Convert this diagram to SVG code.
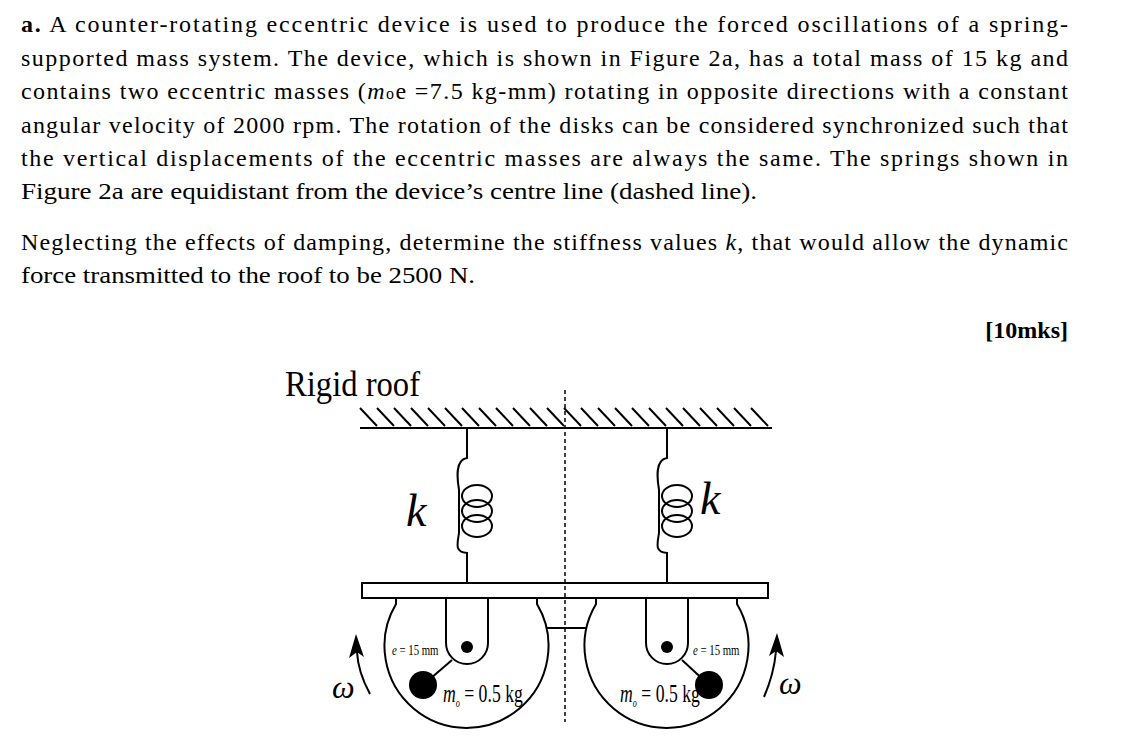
<svg xmlns="http://www.w3.org/2000/svg" width="1132" height="752" viewBox="0 0 1132 752">
<style>
.t{font-family:"Liberation Serif",serif;font-size:24px;fill:#000}
.ln{stroke:#000;stroke-width:2;fill:none}
.fig{font-family:"Liberation Serif",serif;fill:#000}
</style>
<defs>
<g id="coil">
<path class="ln" d="M0,0 V30 C-12,32 -10,50 -8,62 V105 C-10,117 -12,124 0,125 V155"/>
<ellipse class="ln" cx="10" cy="68" rx="15" ry="11"/>
<ellipse class="ln" cx="10" cy="83" rx="15" ry="11"/>
<ellipse class="ln" cx="10" cy="98" rx="15" ry="11"/>
</g>
</defs>
<rect width="1132" height="752" fill="#fff"/>
<g id="text">
<text class="t" x="21" y="32" textLength="1047" lengthAdjust="spacing"><tspan font-weight="bold">a.</tspan> A counter-rotating eccentric device is used to produce the forced oscillations of a spring-</text>
<text class="t" x="21" y="66" textLength="1047" lengthAdjust="spacing">supported mass system. The device, which is shown in Figure 2a, has a total mass of 15 kg and</text>
<text class="t" x="21" y="99" textLength="1047" lengthAdjust="spacing">contains two eccentric masses (<tspan font-style="italic">m</tspan><tspan font-size="16">o</tspan>e =7.5 kg-mm) rotating in opposite directions with a constant</text>
<text class="t" x="21" y="133" textLength="1047" lengthAdjust="spacing">angular velocity of 2000 rpm. The rotation of the disks can be considered synchronized such that</text>
<text class="t" x="21" y="166" textLength="1047" lengthAdjust="spacing">the vertical displacements of the eccentric masses are always the same. The springs shown in</text>
<text class="t" x="21" y="199" textLength="736" lengthAdjust="spacingAndGlyphs">Figure 2a are equidistant from the device’s centre line (dashed line).</text>
<text class="t" x="21" y="250" textLength="1047" lengthAdjust="spacing">Neglecting the effects of damping, determine the stiffness values <tspan font-style="italic">k</tspan>, that would allow the dynamic</text>
<text class="t" x="21" y="283" textLength="454" lengthAdjust="spacingAndGlyphs">force transmitted to the roof to be 2500 N.</text>
<text class="t" x="1068" y="338" text-anchor="end" font-weight="bold">[10mks]</text>
</g>
<g id="roof">
<text class="fig" x="285" y="396" font-size="36" textLength="135" lengthAdjust="spacingAndGlyphs">Rigid roof</text>
<line class="ln" x1="360" y1="428" x2="772" y2="428"/>
<path class="ln" stroke-width="1.5" d="M360,408l17,18 M377,408l17,18 M394,408l17,18 M411,408l17,18 M428,408l17,18 M445,408l17,18 M462,408l17,18 M479,408l17,18 M496,408l17,18 M513,408l17,18 M530,408l17,18 M547,408l17,18 M564,408l17,18 M581,408l17,18 M598,408l17,18 M615,408l17,18 M632,408l17,18 M649,408l17,18 M666,408l17,18 M683,408l17,18 M700,408l17,18 M717,408l17,18 M734,408l17,18 M751,408l17,18"/>
</g>
<g id="centerline"><line x1="565" y1="390" x2="565" y2="722" stroke="#000" stroke-width="1.5" stroke-dasharray="4,3"/></g>
<g id="connectors">
<g id="spring-left">
<use href="#coil" x="467" y="428"/>
<text class="fig" x="406" y="526" font-size="46" font-style="italic">k</text>
</g>
<g id="spring-right">
<use href="#coil" x="667" y="428"/>
<text class="fig" x="700" y="514" font-size="46" font-style="italic">k</text>
</g>
</g>
<g id="device">
<rect class="ln" x="362" y="583" width="406" height="15"/>
<line class="ln" x1="547" y1="628" x2="586" y2="628"/>
</g>
<g id="disk-left">
<path class="ln" d="M396,598 V604 A82,82 0 1,0 537,604 V598"/>
<path class="ln" d="M446,598 V643 A21,21 0 0,0 488,643 V598"/>
<circle cx="467" cy="647" r="6" fill="#000"/>
<line class="ln" x1="452" y1="660" x2="423" y2="685"/>
<circle cx="423" cy="685" r="14" fill="#000"/>
<text class="fig" x="392" y="655" font-size="15" font-style="italic" transform="translate(392 655) scale(0.72 1) translate(-392 -655)">e<tspan font-style="normal"> = 15 mm</tspan></text>
<text class="fig" x="443" y="702" font-size="26" transform="translate(443 702) scale(0.68 1) translate(-443 -702)"><tspan font-style="italic">m</tspan><tspan font-size="12" dy="5" font-style="italic">o</tspan><tspan dy="-5"> = 0.5 kg</tspan></text>
<path class="ln" stroke-width="3" d="M370,694 Q358,672 357,652"/>
<polygon points="356,634 349,658 357,652 364,657" fill="#000"/>
<text class="fig" x="332" y="698" font-size="32" font-style="italic">ω</text>
</g>
<g id="disk-right">
<path class="ln" d="M596,598 V604 A82,82 0 1,0 737,604 V598"/>
<path class="ln" d="M646,598 V643 A21,21 0 0,0 688,643 V598"/>
<circle cx="667" cy="647" r="6" fill="#000"/>
<line class="ln" x1="682" y1="660" x2="709" y2="685"/>
<circle cx="709" cy="685" r="14" fill="#000"/>
<text class="fig" x="693" y="655" font-size="15" font-style="italic" transform="translate(693 655) scale(0.72 1) translate(-693 -655)">e<tspan font-style="normal"> = 15 mm</tspan></text>
<text class="fig" x="620" y="702" font-size="26" transform="translate(620 702) scale(0.68 1) translate(-620 -702)"><tspan font-style="italic">m</tspan><tspan font-size="12" dy="5" font-style="italic">o</tspan><tspan dy="-5"> = 0.5 kg</tspan></text>
<path class="ln" stroke-width="3" d="M764,697 Q774,674 776,651"/>
<polygon points="777,633 769,656 776,651 784,657" fill="#000"/>
<text class="fig" x="779" y="694" font-size="32" font-style="italic">ω</text>
</g>
</svg>
